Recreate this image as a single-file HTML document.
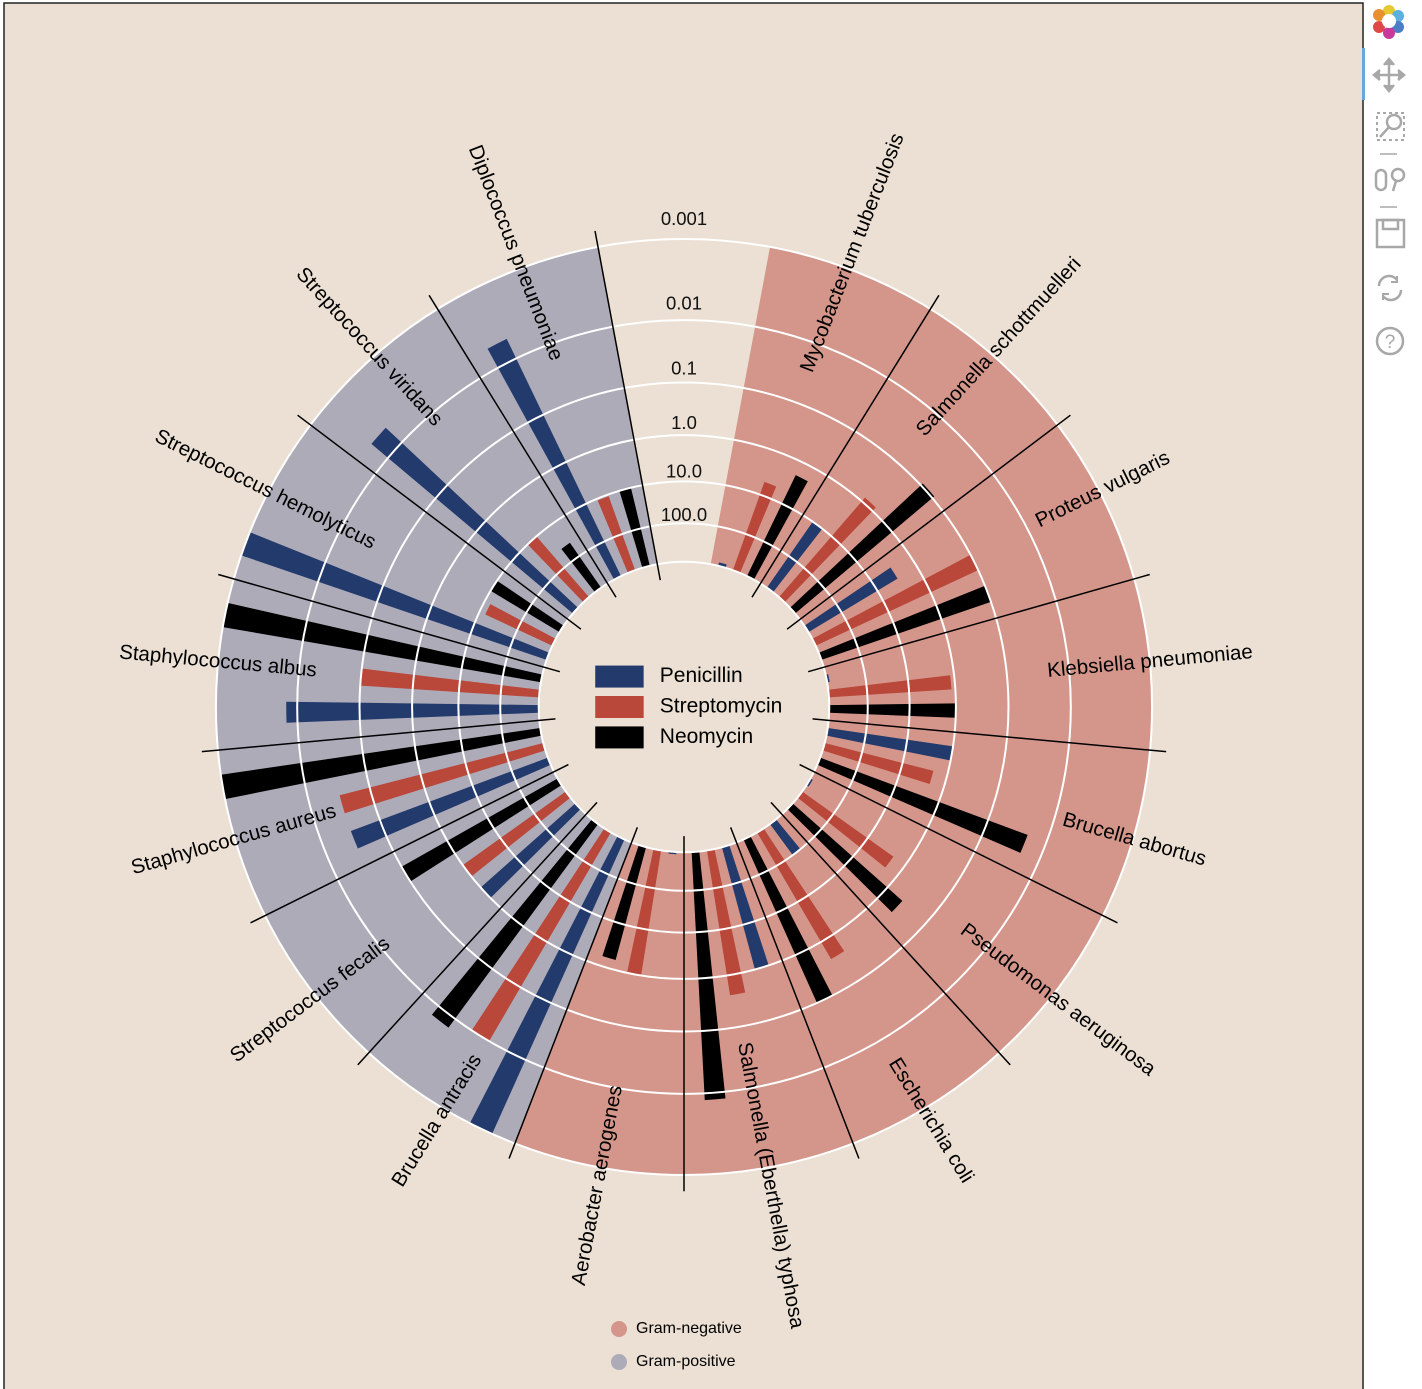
<!DOCTYPE html>
<html><head><meta charset="utf-8">
<style>
html,body{margin:0;padding:0;background:#fff;}
body{width:1422px;height:1389px;overflow:hidden;position:relative;font-family:"Liberation Sans",sans-serif;}
#plot{position:absolute;left:0;top:0;}
</style></head>
<body>
<svg id="plot" width="1422" height="1389" viewBox="0 0 1422 1389" xmlns="http://www.w3.org/2000/svg">
<rect x="4" y="3" width="1359" height="1390" fill="#ebe0d3" stroke="#222" stroke-width="1.5"/>
<g id="g"></g>
<g fill="none" stroke="#a8a8a8" stroke-width="2.5">
  <rect x="1362" y="48" width="3" height="52" fill="#6aa5dc" stroke="none"/>
  <g stroke="none">
    <circle cx="1389" cy="11" r="6" fill="#e6c830"/><circle cx="1398" cy="16" r="6" fill="#5ab0e0"/>
    <circle cx="1398" cy="27" r="6" fill="#4a7fc8"/><circle cx="1389" cy="33" r="6" fill="#c83a9a"/>
    <circle cx="1379" cy="27" r="6" fill="#e04848"/><circle cx="1379" cy="15" r="6" fill="#e89030"/>
    <circle cx="1389" cy="21" r="7" fill="#fff"/>
  </g>
  <g><path d="M1389 60v30M1375 75h29"/><path d="M1384 65l5-6 5 6M1384 85l5 6 5-6M1380 70l-6 5 6 5M1398 70l6 5-6 5" fill="#a8a8a8"/></g>
  <g><rect x="1377" y="113" width="27" height="27" stroke-dasharray="3 3" stroke-width="2"/><circle cx="1394" cy="122" r="7"/><path d="M1389 127l-9 10"/></g>
  <path d="M1380 154h17M1380 207h17" stroke-width="1.5"/>
  <g><rect x="1376" y="170" width="10" height="20" rx="5"/><circle cx="1398" cy="175" r="6"/><path d="M1396 181l-3 10"/></g>
  <g><rect x="1377" y="220" width="27" height="27"/><rect x="1383" y="220" width="15" height="9"/></g>
  <g><path d="M1379 286a10 10 0 0 1 18-6M1401 290a10 10 0 0 1-18 6"/><path d="M1397 276v6h-6M1383 300v-6h6" stroke-width="2"/></g>
  <g><circle cx="1390" cy="341" r="13"/><text x="1390" y="348" text-anchor="middle" font-size="19" fill="#a8a8a8" stroke="none" font-family="Liberation Sans">?</text></g>
</g>
</svg>
<script>
const bacteria=["Mycobacterium tuberculosis","Salmonella schottmuelleri","Proteus vulgaris","Klebsiella pneumoniae","Brucella abortus","Pseudomonas aeruginosa","Escherichia coli","Salmonella (Eberthella) typhosa","Aerobacter aerogenes","Brucella antracis","Streptococcus fecalis","Staphylococcus aureus","Staphylococcus albus","Streptococcus hemolyticus","Streptococcus viridans","Diplococcus pneumoniae"];
const penicillin=[800,10,3,850,1,850,100,1,870,0.001,1,0.03,0.007,0.001,0.005,0.005];
const streptomycin=[5,0.8,0.1,1.2,2,2,0.4,0.4,1,0.01,1,0.03,0.1,14,10,11];
const neomycin=[2,0.09,0.1,1,0.02,0.4,0.1,0.008,1.6,0.007,0.1,0.001,0.001,10,40,10];
const gram=["negative","negative","negative","negative","negative","negative","negative","negative","negative","positive","positive","positive","positive","positive","positive","positive"];
const tickValues=[0.001,0.01,0.1,1,10,100,1000];
const tickLabels=["0.001","0.01","0.1","1.0","10.0","100.0"];
const drugs=["Penicillin","Streptomycin","Neomycin"];

const NS="http://www.w3.org/2000/svg";
const g=document.getElementById('g');
const cx=684,cy=707,S=1.614,LS=1.04;
const inner=90,outer=290;
const minr=Math.sqrt(Math.log(0.001*1e4)),maxr=Math.sqrt(Math.log(1000*1e4));
const A=(outer-inner)/(minr-maxr),B=inner-A*maxr;
function rad(v){return A*Math.sqrt(Math.log(v*1e4))+B;}
const gramColor={negative:"#d4968a",positive:"#aeabb8"};
const drugColor={Penicillin:"#233a6c",Streptomycin:"#b9473a",Neomycin:"#000"};
function P(r,a){return [cx+r*S*Math.cos(a),cy-r*S*Math.sin(a)];}
function el(t,at){const e=document.createElementNS(NS,t);for(const k in at)e.setAttribute(k,at[k]);g.appendChild(e);return e;}
function wedge(r0,r1,a0,a1,fill,name){
  const p1=P(r1,a0),p2=P(r1,a1),p3=P(r0,a1),p4=P(r0,a0);
  const la=(a1-a0)>Math.PI?1:0;
  const d=`M${p1[0]},${p1[1]}A${r1*S},${r1*S} 0 ${la} 0 ${p2[0]},${p2[1]}L${p3[0]},${p3[1]}A${r0*S},${r0*S} 0 ${la} 1 ${p4[0]},${p4[1]}Z`;
  const e=el('path',{d:d,fill:fill});
  
  
  return e;
}
const n=bacteria.length,big=2*Math.PI/(n+1),small=big/7;
const angles=bacteria.map((b,i)=>Math.PI/2-big/2-i*big);
bacteria.forEach((b,i)=>{wedge(inner,outer,angles[i]-big,angles[i],gramColor[gram[i]],'gram-wedge');});
bacteria.forEach((b,i)=>{
  const s=angles[i]-big;
  wedge(inner,rad(penicillin[i]),s+5*small,s+6*small,drugColor.Penicillin,'penicillin-bar');
  wedge(inner,rad(streptomycin[i]),s+3*small,s+4*small,drugColor.Streptomycin,'streptomycin-bar');
  wedge(inner,rad(neomycin[i]),s+1*small,s+2*small,drugColor.Neomycin,'neomycin-bar');
});
tickValues.forEach((v,i)=>{
  const c=el('circle',{cx:cx,cy:cy,r:rad(v)*S,fill:'none',stroke:'#fff','stroke-width':2});
  
  
});
tickLabels.forEach((t,i)=>{
  const e=el('text',{x:cx,y:cy-rad(tickValues[i])*S*LS,'text-anchor':'middle','dominant-baseline':'middle','font-size':18.5,fill:'#111'});
  e.textContent=t;
  
  
});
bacteria.forEach((b,i)=>{
  const a=angles[i]-big;const p1=P(inner-10,a),p2=P(outer+10,a);
  const l=el('line',{x1:p1[0],y1:p1[1],x2:p2[0],y2:p2[1],stroke:'#000','stroke-width':1.5});
  
  
});
bacteria.forEach((b,i)=>{
  let la=angles[i]-big/2;
  const px=cx+outer*S*Math.cos(la),py=cy-outer*S*LS*Math.sin(la);
  if(la<-Math.PI/2)la+=Math.PI;
  const t=el('text',{x:px,y:py,'text-anchor':'middle','dominant-baseline':'middle','font-size':20.5,fill:'#000',transform:`rotate(${-la*180/Math.PI} ${px} ${py})`});
  t.textContent=b;
  
  
});
drugs.forEach((d,i)=>{
  const y=cy-(18-18*i)*1.69;
  const r=el('rect',{x:cx-55*S,y:y-11,width:30*S,height:22,fill:drugColor[d]});
  
  
  const t=el('text',{x:cx-15*S,y:y,'dominant-baseline':'middle','font-size':21,fill:'#000'});
  t.textContent=d;
  
  
});
["negative","positive"].forEach((k,i)=>{
  const y=1329+33*i;
  const c=el('circle',{cx:619,cy:y,r:8,fill:gramColor[k]});
  
  
  const t=el('text',{x:636,y:y,'dominant-baseline':'middle','font-size':16,fill:'#000'});
  t.textContent="Gram-"+k;
  
  
});
</script>
</body></html>
